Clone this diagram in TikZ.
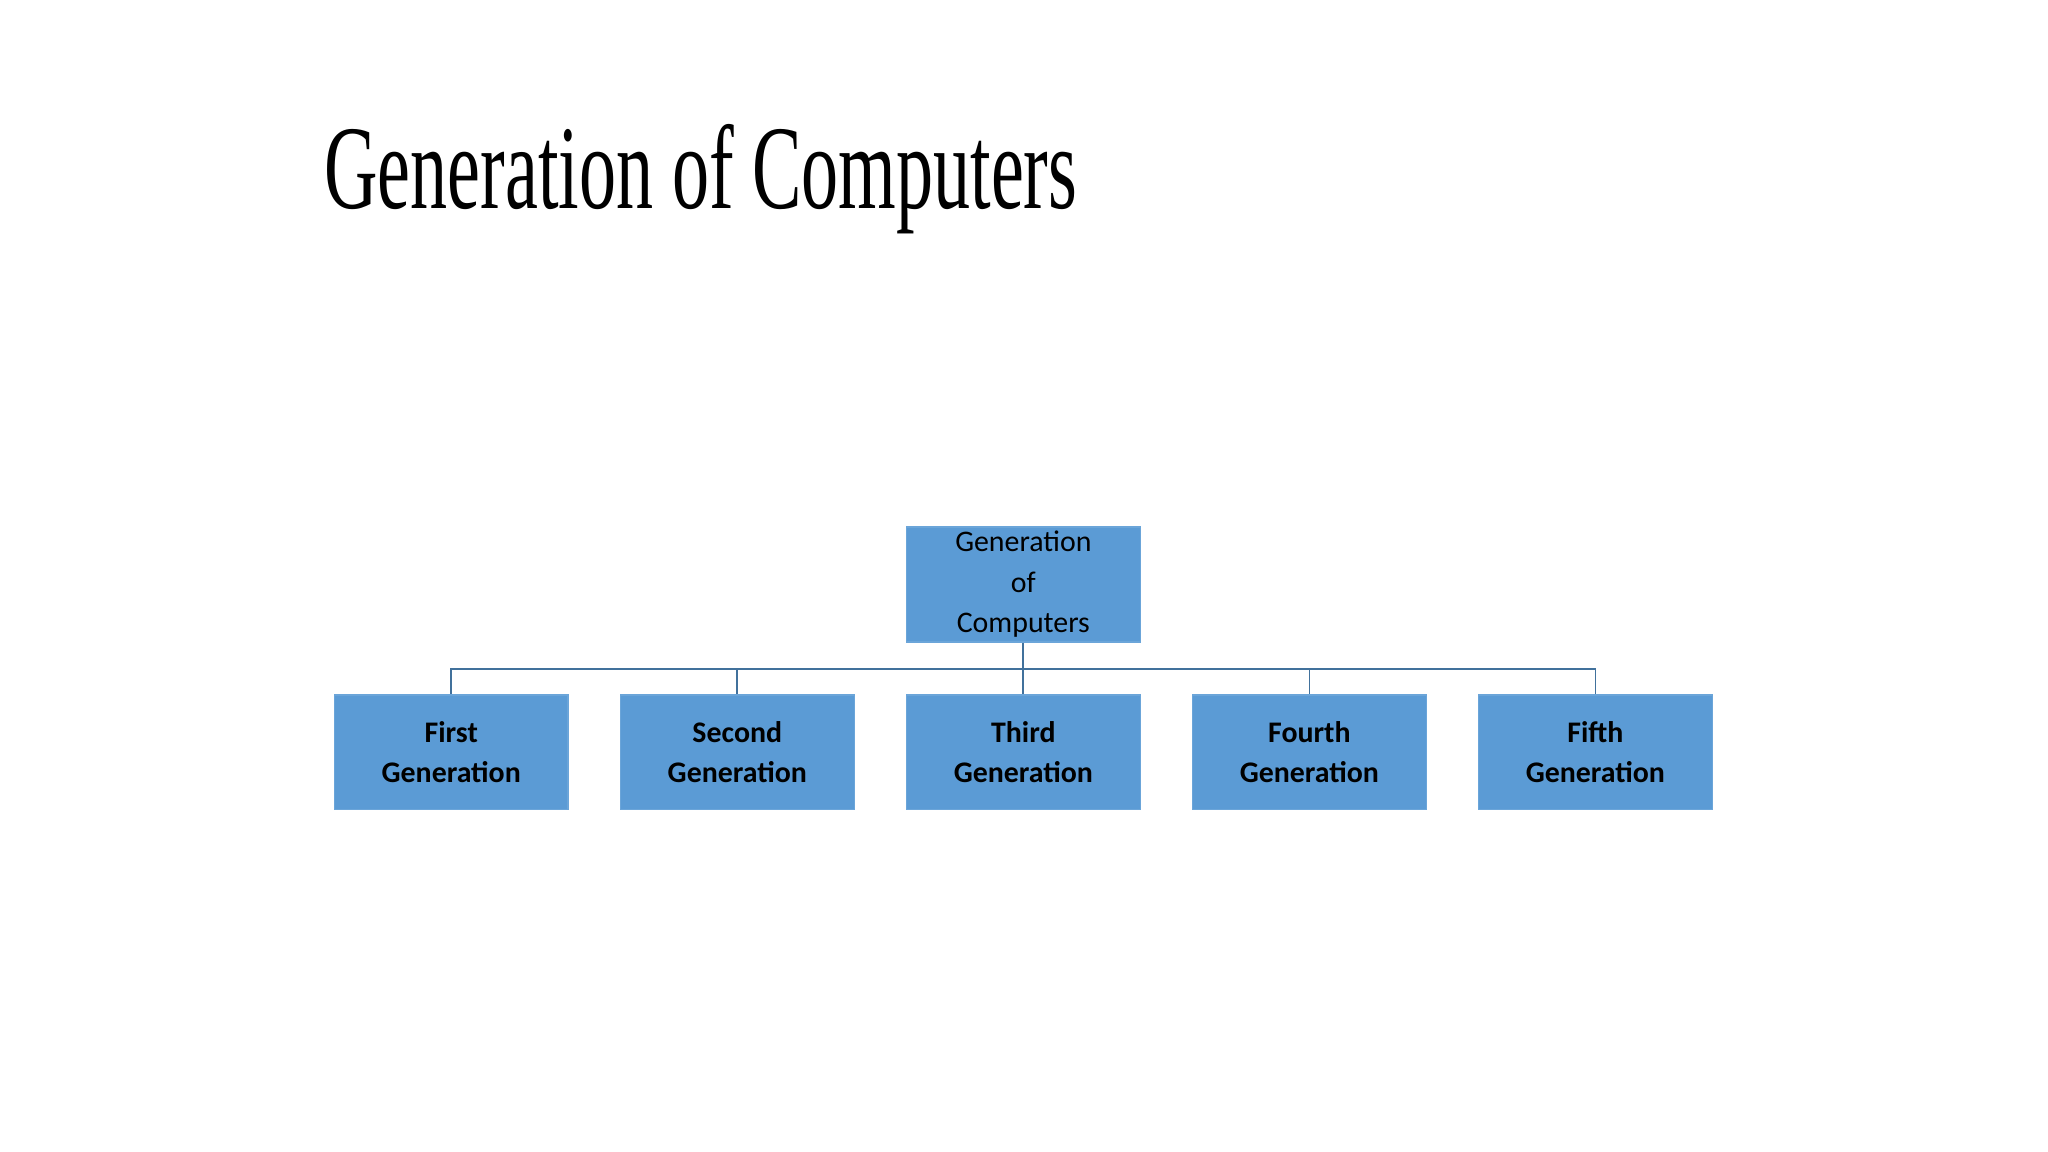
\documentclass[tikz,border=0pt]{standalone}
\usepackage{fontspec}
\setmainfont{Carlito}
\newfontfamily\titlefont{Liberation Serif}
\definecolor{boxblue}{HTML}{5B9BD5}
\definecolor{linecol}{HTML}{41719C}
\begin{document}
\begin{tikzpicture}[x=0.013061cm,y=-0.013061cm,
  gbox/.style={fill=boxblue,draw=boxblue!90!white,minimum width=179*0.013061cm,minimum height=88*0.013061cm,align=center,inner sep=0pt,font=\fontsize{8.5}{11}\selectfont},
  conn/.style={draw=linecol,line width=0.5pt}]
\useasboundingbox (0,0) rectangle (1568,882);
\node[anchor=base west,font=\titlefont\fontsize{34}{40}\selectfont,xscale=0.62,transform shape,inner sep=0pt] (title) at (248,160) {Generation of Computers};
\node[gbox,font=\fontsize{8.5}{11.5}\selectfont] (root) at (783.5,447.5) {Generation\\of\\Computers};
\foreach \n/\x/\t in {a/345.5/First, b/564.5/Second, c/783.5/Third, d/1002.5/Fourth, e/1221.5/Fifth}{
  \node[gbox,font=\bfseries\fontsize{8.5}{11.5}\selectfont] (\n) at (\x,576) {\t\\Generation};
}
\coordinate (bus) at (783.5,512);
\draw[conn] (root.south) -- (bus);
\foreach \n in {a,b,c,d,e}{\draw[conn] (bus) -| (\n.north);}
\end{tikzpicture}
\end{document}
